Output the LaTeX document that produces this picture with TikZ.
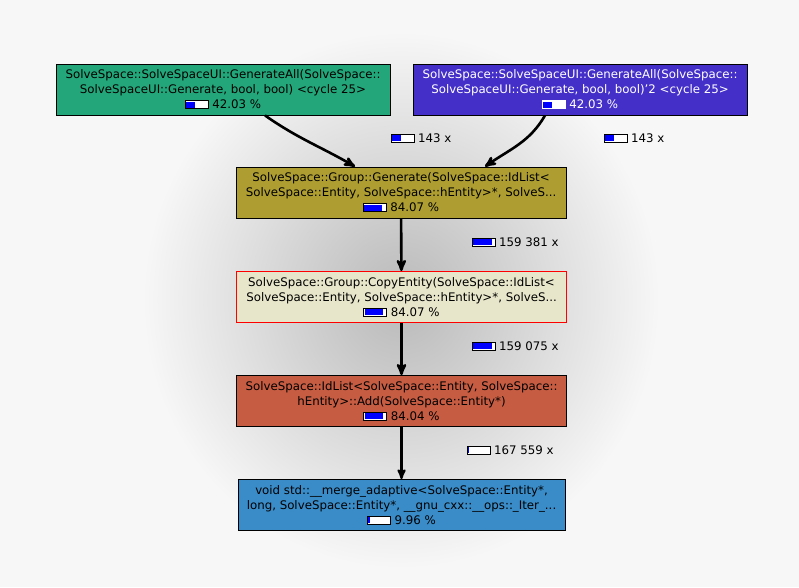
\documentclass[tikz,border=0pt]{standalone}
\usepackage{fontspec}
\setmainfont{DejaVu Sans}
\usetikzlibrary{positioning}
\usetikzlibrary{arrows}
\definecolor{cgreen}{RGB}{35,166,122}
\definecolor{cviolet}{RGB}{68,48,200}
\definecolor{colive}{RGB}{174,158,50}
\definecolor{ccream}{RGB}{232,230,202}
\definecolor{crust}{RGB}{198,92,66}
\definecolor{cblue}{RGB}{58,140,200}
\newcommand{\costbar}[1]{\tikz[baseline=0pt]{\draw[fill=white,line width=0.8pt] (0,0) rectangle (23pt,8pt); \fill[blue] (0.8pt,0.8pt) rectangle ({0.8pt+#1*21.4pt},7.2pt);}}
\tikzset{
    every node/.style={font=\fontsize{11.8}{15}\selectfont},
    func/.style={ % call graph entries
        draw=black,
        line width=0.9pt,
        minimum width=330pt,
        minimum height=51pt,
        align=center,
        inner sep=1pt
    },
    call/.style={ % call arcs
        ->,>=stealth',
        line width=2.6pt
    },
    thin call/.style={
        ->,>=stealth',
        line width=2.2pt
    }
}
\begin{document}
\begin{tikzpicture}[x=1pt,y=-1pt]
\useasboundingbox (0,0) rectangle (799,587);
\fill[gray!6] (0,0) rectangle (799,587);
\shade[inner color=gray!55,outer color=gray!6] (401,300) ellipse (260 and 270);

\node [func,fill=cgreen,minimum width=334pt]  (all)  at (223,89.5) {SolveSpace::SolveSpaceUI::GenerateAll(SolveSpace::\\SolveSpaceUI::Generate, bool, bool) <cycle 25>\\\costbar{0.42} 42.03 \%};
\node [func,fill=cviolet,text=white,minimum width=334pt] (all2) at (580,89.5) {SolveSpace::SolveSpaceUI::GenerateAll(SolveSpace::\\SolveSpaceUI::Generate, bool, bool)'2 <cycle 25>\\\costbar{0.42} 42.03 \%};
\node [func,fill=colive]  (gen)  at (401,192.5) {SolveSpace::Group::Generate(SolveSpace::IdList<\\SolveSpace::Entity, SolveSpace::hEntity>*, SolveS...\\\costbar{0.84} 84.07 \%};
\node [func,fill=ccream,draw=red] (copy) at (401.5,297) {SolveSpace::Group::CopyEntity(SolveSpace::IdList<\\SolveSpace::Entity, SolveSpace::hEntity>*, SolveS...\\\costbar{0.84} 84.07 \%};
\node [func,fill=crust]   (add)  at (401.5,401) {SolveSpace::IdList<SolveSpace::Entity, SolveSpace::\\hEntity>::Add(SolveSpace::Entity*)\\\costbar{0.84} 84.04 \%};
\node [func,fill=cblue,minimum width=327pt] (merge) at (401.5,505) {void std::\_\_merge\_adaptive<SolveSpace::Entity*,\\long, SolveSpace::Entity*, \_\_gnu\_cxx::\_\_ops::\_Iter\_...\\\costbar{0.10} 9.96 \%};

\draw [call] (all.south -| 265,0) to[out=-35,in=150] (gen.north -| 355,0);
\draw [call] (all2.south -| 545,0) to[out=-120,in=35] (gen.north -| 485,0);
\draw [call] (gen) -- (copy);
\draw [call] (copy) -- (add);
\draw [thin call] (add.south) -- (merge.north);

\node [anchor=west] (c1) at (387,138) {\costbar{0.42} 143 x};
\node [anchor=west] (c2) at (600,138) {\costbar{0.42} 143 x};
\node [anchor=west] (c3) at (468,242) {\costbar{0.9} 159 381 x};
\node [anchor=west] (c4) at (468,346) {\costbar{0.9} 159 075 x};
\node [anchor=west] (c5) at (463,450) {\costbar{0.08} 167 559 x};
\end{tikzpicture}
\end{document}
